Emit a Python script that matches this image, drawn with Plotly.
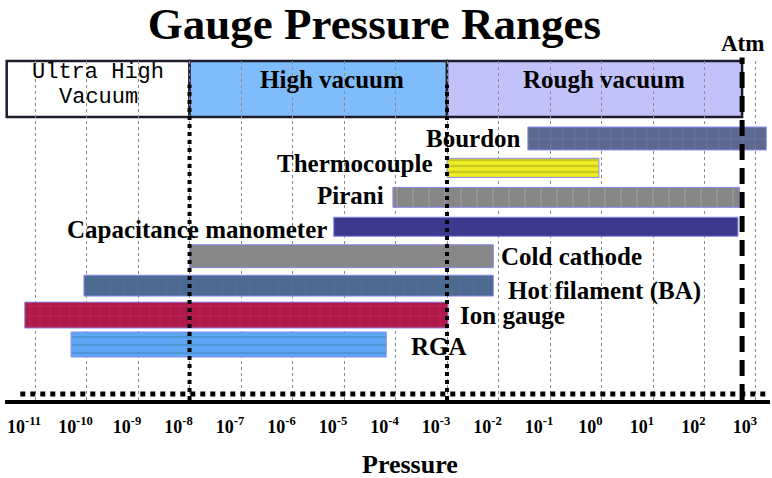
import plotly.graph_objects as go

# ---------------- data (pressure in Torr, expressed as log10 exponents) ----------------
gauges = ["Bourdon", "Thermocouple", "Pirani", "Capacitance manometer",
          "Cold cathode", "Hot filament (BA)", "Ion gauge", "RGA"]
low_exp = [-1.43, -3.0, -4.05, -5.2, -8.0, -10.05, -11.2, -10.3]
high_exp = [3.2, -0.05, 2.68, 2.65, -2.1, -2.1, -2.98, -4.18]

regions = ["Ultra High<br>Vacuum", "High vacuum", "Rough vacuum"]
region_low = [-11.55, -8.0, -3.0]
atm_exp = 2.73  # atmospheric pressure position
region_high = [-8.0, -3.0, atm_exp]

tick_exp = list(range(-11, 4))
tick_text = [f"<b>10<sup>{k}</sup></b>" for k in tick_exp]

# ---------------- styles ----------------
SERIF = "Liberation Serif, Times New Roman, serif"
bar_thickness = [0.78, 0.65, 0.68, 0.65, 0.78, 0.71, 0.88, 0.85]
bar_bg = ["#5d6890", "#eeee22", "#868686", "#3c3a8e", "#878787", "#4c6a90", "#b0184a", "#5ca6f4"]
bar_fg = ["#8891b4", "#a3a326", "#a9a9a9", "#3c3a8e", "#878787", "#5f7fa4", "#c8426e", "#3f7fa8"]
bar_shape = ["+", "-", "|", "", "", "+", "+", "-"]
bar_psize = [12, 6, 16, 8, 8, 14, 10, 8]
bar_solid = [0.1, 0.4, 0.1, 0.1, 0.1, 0.08, 0.1, 0.22]
label_side = ["left", "left", "left", "left", "right", "right", "right", "right"]
label_xshift = [-5, -12, -7, -5, 6, 13, 10, 23]
label_yshift = [0, 4, 2, -3, 0, -5, 0, -2]

fig = go.Figure()

for i, g in enumerate(gauges):
    fig.add_trace(go.Bar(
        orientation="h",
        y=[g], base=[low_exp[i]], x=[high_exp[i] - low_exp[i]],
        width=bar_thickness[i],
        marker=dict(
            color=bar_bg[i],
            line=dict(color="#8c8cf0", width=1),
            pattern=dict(shape=bar_shape[i], fgcolor=bar_fg[i], bgcolor=bar_bg[i],
                         size=bar_psize[i], solidity=bar_solid[i], fillmode="overlay"),
        ),
        showlegend=False, hoverinfo="skip",
    ))

# gauge labels
for i, g in enumerate(gauges):
    left = label_side[i] == "left"
    fig.add_annotation(
        x=low_exp[i] if left else high_exp[i], y=g, xref="x", yref="y",
        text=f"<b>{g}</b>", showarrow=False,
        xanchor="right" if left else "left", yanchor="middle",
        xshift=label_xshift[i], yshift=label_yshift[i],
        font=dict(family=SERIF, size=25, color="black"),
    )

# vacuum regions
band_fill = ["#ffffff", "#7fbcfb", "#c2c2fb"]
band_layer = ["between", "below", "below"]
band_bottom = 0.835
for i in range(3):
    fig.add_shape(type="rect", xref="x", yref="paper",
                  x0=region_low[i], x1=region_high[i], y0=band_bottom, y1=1.0,
                  fillcolor=band_fill[i], line=dict(color="#1c1c2c", width=2.5),
                  layer=band_layer[i])

# region titles
fig.add_annotation(x=(region_low[0] + region_high[0]) / 2, y=0.966, xref="x", yref="paper",
                   text="Ultra High", showarrow=False, yanchor="middle", borderpad=0,
                   font=dict(family="Liberation Mono, monospace", size=22, color="black"))
fig.add_annotation(x=(region_low[0] + region_high[0]) / 2, y=0.891, xref="x", yref="paper",
                   text="Vacuum", showarrow=False, yanchor="middle", borderpad=0,
                   font=dict(family="Liberation Mono, monospace", size=22, color="black"))
fig.add_annotation(x=(region_low[1] + region_high[1]) / 2, y=0.944, xref="x", yref="paper",
                   text="<b>High vacuum</b>", showarrow=False, xshift=14, yanchor="middle",
                   font=dict(family=SERIF, size=25, color="black"))
fig.add_annotation(x=(region_low[2] + region_high[2]) / 2, y=0.944, xref="x", yref="paper",
                   text="<b>Rough vacuum</b>", showarrow=False, xshift=9, yanchor="middle",
                   font=dict(family=SERIF, size=25, color="black"))

# region boundaries
fig.add_shape(type="line", xref="x", yref="paper", x0=-8.0, x1=-8.0, y0=0.0, y1=0.93,
              line=dict(color="black", width=4, dash="4px,4px"), layer="above")
fig.add_shape(type="line", xref="x", yref="paper", x0=-3.0, x1=-3.0, y0=0.0, y1=0.93,
              line=dict(color="black", width=4, dash="4px,4px"), layer="above")
fig.add_shape(type="line", xref="x", yref="paper", x0=atm_exp, x1=atm_exp, y0=0.0, y1=1.01,
              line=dict(color="black", width=5, dash="16px,8px"), layer="above")
fig.add_annotation(x=atm_exp, y=1.053, xref="x", yref="paper", text="<b>Atm</b>",
                   showarrow=False, yanchor="middle",
                   font=dict(family=SERIF, size=23, color="black"))

# square-dotted baseline above the axis
fig.add_shape(type="line", xref="paper", yref="paper", x0=0.02, x1=1.0, y0=0.018, y1=0.018,
              line=dict(color="black", width=5, dash="5px,5px"), layer="above")

# axis title
fig.add_annotation(x=0.53, y=-0.19, xref="paper", yref="paper", text="<b>Pressure</b>",
                   showarrow=False, xanchor="center", yanchor="middle",
                   font=dict(family=SERIF, size=26, color="black"))

fig.update_layout(
    width=772, height=478,
    margin=dict(l=5, r=2, t=61, b=78),
    paper_bgcolor="white", plot_bgcolor="white",
    barmode="overlay",
    title=dict(text="<b>Gauge Pressure Ranges</b>", x=0.485, xanchor="center",
               y=0.985, yanchor="top", yref="container",
               font=dict(family=SERIF, size=45, color="black")),
    xaxis=dict(
        range=[-11.583, 3.272], tickvals=tick_exp, ticktext=tick_text,
        showgrid=True, gridcolor="#8a8a8a", griddash="dot", gridwidth=1,
        zeroline=False, showline=True, linecolor="black", linewidth=4,
        ticks="", ticklabelstandoff=7, ticklabelshift=-11, automargin=False,
        tickfont=dict(family=SERIF, size=18, color="black"),
        fixedrange=True,
    ),
    yaxis=dict(
        categoryorder="array", categoryarray=gauges, automargin=False,
        range=[8.886, -2.633], showticklabels=False, showgrid=False,
        zeroline=False, showline=False, fixedrange=True,
    ),
)

fig.write_html("out.html", config={"displayModeBar": False},
               post_script="document.body.style.margin='0';")
